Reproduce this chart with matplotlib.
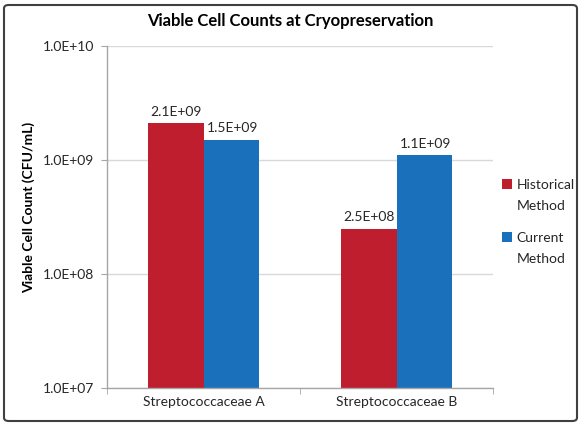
import matplotlib
matplotlib.use("Agg")
import matplotlib.pyplot as plt
import numpy as np
from matplotlib.patches import FancyBboxPatch

plt.rcParams['font.family'] = ['Lato', 'DejaVu Sans']

categories = ["Streptococcaceae A", "Streptococcaceae B"]
series_names = ["Historical", "Current"]
series_suffix = ["Method", "Method"]
historical = [2.1e9, 2.5e8]
current = [1.5e9, 1.1e9]
labels_hist = ["2.1E+09", "2.5E+08"]
labels_curr = ["1.5E+09", "1.1E+09"]
yticks = [1e7, 1e8, 1e9, 1e10]
ytick_labels = ["1.0E+07", "1.0E+08", "1.0E+09", "1.0E+10"]

red = "#BE1E2D"
blue = "#1B70BC"
grid_c = "#D9D9D9"
axis_c = "#A6A6A6"
txt_c = "#262626"

W, H = 586, 425
fig = plt.figure(figsize=(W / 100, H / 100), dpi=100)
ax = fig.add_axes([107 / W, 1 - 388 / H, (493 - 107) / W, (388 - 46) / H])

x = np.arange(len(categories))
bw = 0.285
b1 = ax.bar(x - bw / 2, historical, bw, color=red, label=series_names[0])
b2 = ax.bar(x + bw / 2, current, bw, color=blue, label=series_names[1])
ax.set_yscale('log')
ax.set_ylim(1e7, 1e10)
ax.set_xlim(-0.5, 1.5)

for rect, lab in zip(b1, labels_hist):
    ax.text(rect.get_x() + rect.get_width() / 2, rect.get_height() * 1.12, lab,
            ha='center', va='bottom', fontsize=10, color=txt_c)
for rect, lab in zip(b2, labels_curr):
    ax.text(rect.get_x() + rect.get_width() / 2 + 0.01, rect.get_height() * 1.12, lab,
            ha='center', va='bottom', fontsize=10, color=txt_c)

ax.set_yticks(yticks)
ax.set_yticklabels(ytick_labels, fontsize=10, color=txt_c)
ax.yaxis.set_minor_locator(matplotlib.ticker.NullLocator())
ax.set_xticks(x)
ax.set_xticklabels(categories, fontsize=10, color=txt_c)
ax.tick_params(axis='x', length=0, pad=6)
ax.set_xticks([-0.5, 0.5, 1.5], minor=True)
ax.tick_params(axis='x', which='minor', length=4, color=axis_c)
ax.tick_params(axis='y', length=4, color=axis_c, pad=5)
ax.grid(axis='y', color=grid_c, linewidth=1)
ax.set_axisbelow(True)
for s in ['top', 'right']:
    ax.spines[s].set_visible(False)
for s in ['left', 'bottom']:
    ax.spines[s].set_color(axis_c)
    ax.spines[s].set_linewidth(1)

fig.text(29 / W, 1 - 207 / H, "Viable Cell Count (CFU/mL)", rotation=90, ha='center', va='center',
         fontsize=10, fontweight='bold', color='black')
fig.text(290 / W, 1 - 21 / H, "Viable Cell Counts at Cryopreservation", ha='center', va='center',
         fontsize=12, fontweight='bold', color='black')

leg = fig.legend(handles=[b1, b2], loc='upper left', bbox_to_anchor=(502 / W, 1 - 179 / H),
                 frameon=False, fontsize=10, handlelength=0.72, handleheight=0.72,
                 handletextpad=0.32, labelspacing=2.95, borderpad=0, borderaxespad=0)
for t in leg.get_texts():
    t.set_color(txt_c)

fig.canvas.draw()
renderer = fig.canvas.get_renderer()
inv = fig.transFigure.inverted()
for t, suf in zip(leg.get_texts(), series_suffix):
    bb = t.get_window_extent(renderer)
    x0, y0 = inv.transform((bb.x0, bb.y0))
    fig.text(x0, y0 - 21 / H, suf, ha='left', va='bottom', fontsize=10, color=txt_c)

border = FancyBboxPatch((4 / W, 4 / H), 573 / W, 416 / H, boxstyle="round,pad=0,rounding_size=0.008",
                        transform=fig.transFigure, fill=False, edgecolor='#404040', linewidth=1.5)
fig.patches.append(border)

fig.savefig("out.png", dpi=100)
